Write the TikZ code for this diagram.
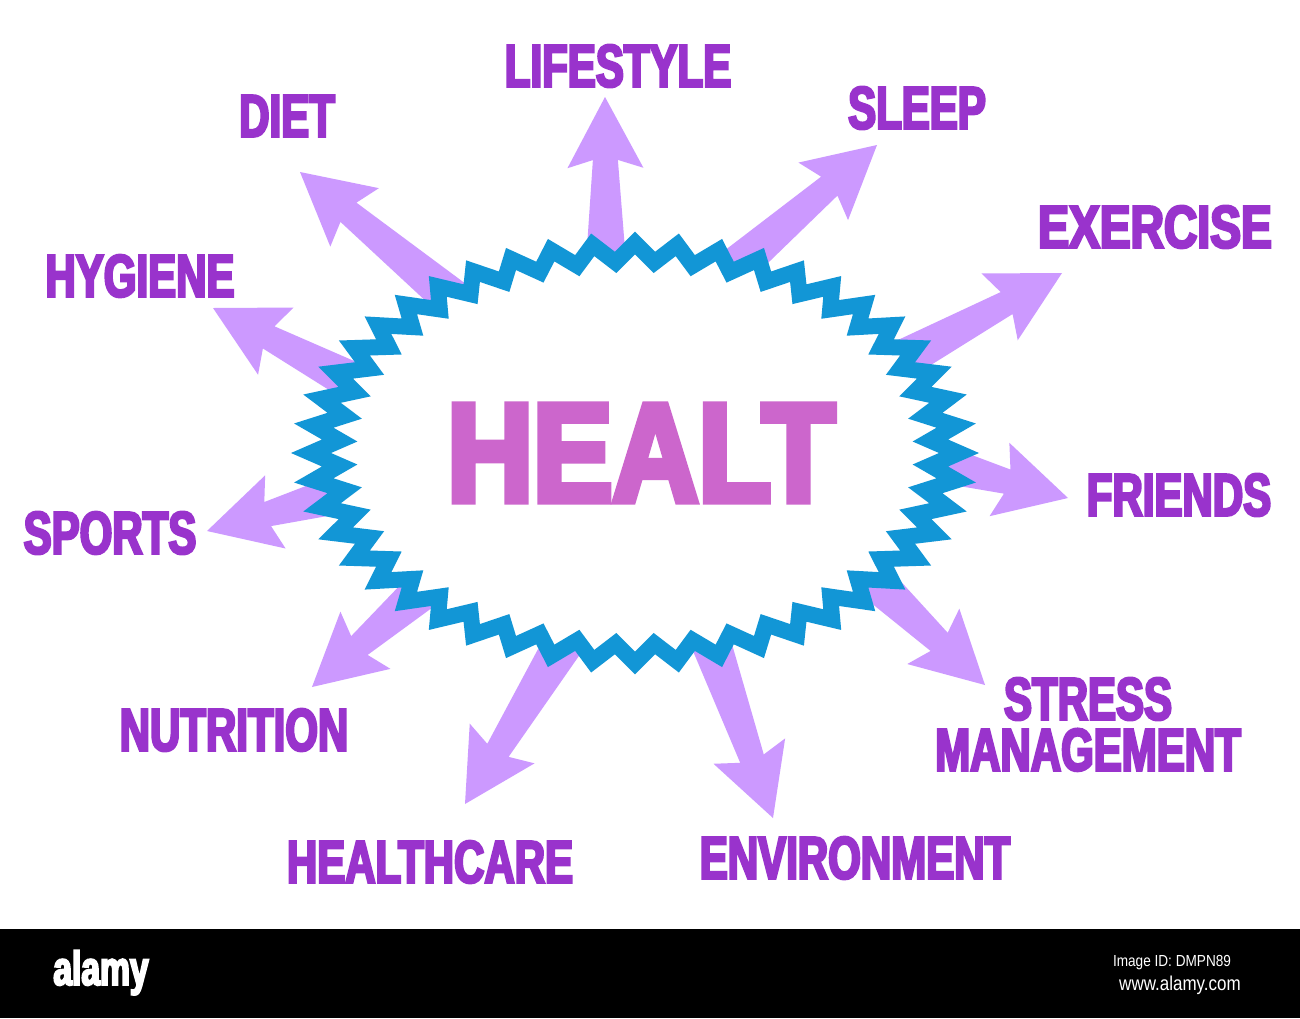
\documentclass[tikz,border=0pt]{standalone}
\usepackage{fontspec}
\setmainfont{Liberation Sans}
\newfontfamily\lblfont{Liberation Sans}[FakeStretch=0.70,FakeBold=4]
\newfontfamily\hubfont{Liberation Sans}[FakeStretch=0.85,FakeBold=5]
\newfontfamily\wmfont{Liberation Sans}[FakeStretch=0.85]
\usetikzlibrary{positioning,calc}
\definecolor{zig}{RGB}{18,150,214}
\definecolor{lilac}{RGB}{204,153,255}
\definecolor{plum}{RGB}{153,51,204}
\definecolor{orchid}{RGB}{204,102,204}
\tikzset{
  topic/.style={inner sep=0pt,text=plum,align=center,
    font=\lblfont\bfseries\fontsize{60}{48}\selectfont},
  shaft/.style={fill=lilac},
  band/.style={draw=zig,fill=white,line width=16pt,line join=miter},
}

\begin{document}
\begin{tikzpicture}[x=1pt,y=-1pt]
\fill[white] (0,0) rectangle (1300,1018);
\coordinate (C) at (635,453);
% base and tip of every arrow
\coordinate (bLif) at (606,262); \coordinate (tLif) at (605,97);
\coordinate (bSle) at (732,270); \coordinate (tSle) at (877,145);
\coordinate (bDie) at (454,300); \coordinate (tDie) at (300,172);
\coordinate (bHyg) at (357,384); \coordinate (tHyg) at (213,308);
\coordinate (bExe) at (898,362); \coordinate (tExe) at (1062,273);
\coordinate (bFri) at (931,461); \coordinate (tFri) at (1068,498);
\coordinate (bStr) at (867,574); \coordinate (tStr) at (985,685);
\coordinate (bEnv) at (710,640); \coordinate (tEnv) at (773,818);
\coordinate (bHea) at (565,641); \coordinate (tHea) at (465,804);
\coordinate (bNut) at (424,589); \coordinate (tNut) at (312,687);
\coordinate (bSpo) at (343,493); \coordinate (tSpo) at (207,531);
\foreach \b/\t in {bLif/tLif,bSle/tSle,bDie/tDie,bHyg/tHyg,bExe/tExe,bFri/tFri,
                   bStr/tStr,bEnv/tEnv,bHea/tHea,bNut/tNut,bSpo/tSpo}{
  \coordinate (j) at ($(\t)!63pt!(\b)$);
  \coordinate (k) at ($(\t)!71pt!(\b)$);
  \fill[shaft] ($(\b)!20pt!90:(\t)$) -- ($(j)!12.5pt!90:(\t)$) -- ($(k)!38pt!90:(\t)$)
    -- (\t) -- ($(k)!38pt!-90:(\t)$) -- ($(j)!12.5pt!-90:(\t)$)
    -- ($(\b)!20pt!-90:(\t)$) -- cycle;
}
\begin{scope}[shift={(C)}]
\filldraw[band] (0:324 and 210)
  \foreach \i in {1,...,47}{ -- ({\i*7.5-3.75}:296 and 191) -- ({\i*7.5}:324 and 210) }
  -- (356.25:296 and 191) -- cycle;
\end{scope}
\node[inner sep=0pt,text=orchid,font=\hubfont\bfseries\fontsize{140}{140}\selectfont]
  (hub) at (641,453) {HEALT};
\node[topic] (lifestyle) at (618,66) {LIFESTYLE};
\node[topic] (diet) at (287,116) {DIET};
\node[topic] (sleep) at (917,108) {SLEEP};
\node[topic] (hygiene) at (140,276) {HYGIENE};
\node[topic,xscale=1.1] (exercise) at (1155,227) {EXERCISE};
\node[topic] (friends) at (1179,495) {FRIENDS};
\node[topic] (sports) at (110,533) {SPORTS};
\node[topic] (stress) at (1088,699) {STRESS};
\node[topic,below=8pt of stress] (management) {MANAGEMENT};
\node[topic] (nutrition) at (234,730) {NUTRITION};
\node[topic] (healthcare) at (430,862) {HEALTHCARE};
\node[topic] (environment) at (855,858) {ENVIRONMENT};
%\draw[red] (hub) ellipse (327 and 212);
\fill[black] (0,929) rectangle (1300,1018);
\node[text=white,inner sep=0pt,anchor=base,font=\lblfont\bfseries\fontsize{48}{48}\selectfont]
  (logo) at (101,985) {alamy};
\node[text=white,inner sep=0pt,font=\wmfont\fontsize{16}{16}\selectfont]
  (imgid) at (1172,963) {Image ID: DMPN89};
\node[text=white,inner sep=0pt,font=\wmfont\fontsize{20}{20}\selectfont]
  (site) at (1180,985) {www.alamy.com};
\end{tikzpicture}
\end{document}
